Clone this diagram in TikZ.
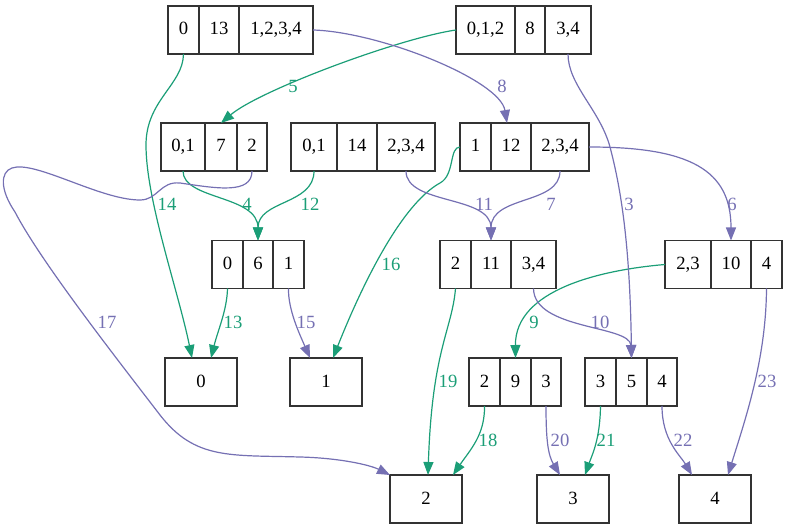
\documentclass[tikz,border=0pt]{standalone}
\usepackage{fontspec}
\setmainfont{Liberation Serif}
\usetikzlibrary{positioning,arrows.meta}
\definecolor{verde}{HTML}{1B9E77}
\definecolor{viola}{HTML}{7570B3}
\tikzset{
  cella/.style={draw=black!80, line width=1.33pt, minimum height=48pt, inner sep=0pt, outer sep=0pt, text height=10pt, text depth=0pt},
  foglia/.style={cella, minimum width=72pt},
  arco/.style={line width=1.2pt, -{Triangle[length=13pt,width=10pt]}},
  archiv/.style={arco, verde},
  archip/.style={arco, viola},
  etich/.style={inner sep=0pt, text height=10pt, text depth=0pt},
}
\begin{document}
\begin{tikzpicture}[x=1pt, y=-1pt, font=\fontsize{18.67}{22}\selectfont]
    \useasboundingbox (0,0) rectangle (787,529);
    % Livello 1
    \node[cella, minimum width=31pt, anchor=west] (n13a) at (168,30) {0};
    \node[cella, minimum width=40pt, right=0pt of n13a] (n13b) {13};
    \node[cella, minimum width=74pt, right=0pt of n13b] (n13c) {1,2,3,4};
    \node[cella, minimum width=59pt, anchor=west] (n8a) at (456,30) {0,1,2};
    \node[cella, minimum width=30pt, right=0pt of n8a] (n8b) {8};
    \node[cella, minimum width=46pt, right=0pt of n8b] (n8c) {3,4};
    % Livello 2
    \node[cella, minimum width=44pt, anchor=west] (n7a) at (161,147) {0,1};
    \node[cella, minimum width=32pt, right=0pt of n7a] (n7b) {7};
    \node[cella, minimum width=30pt, right=0pt of n7b] (n7c) {2};
    \node[cella, minimum width=46pt, anchor=west] (n14a) at (291,147) {0,1};
    \node[cella, minimum width=40pt, right=0pt of n14a] (n14b) {14};
    \node[cella, minimum width=58pt, right=0pt of n14b] (n14c) {2,3,4};
    \node[cella, minimum width=31pt, anchor=west] (n12a) at (460,147) {1};
    \node[cella, minimum width=40pt, right=0pt of n12a] (n12b) {12};
    \node[cella, minimum width=58pt, right=0pt of n12b] (n12c) {2,3,4};
    % Livello 3
    \node[cella, minimum width=31pt, anchor=west] (n6a) at (212,264.5) {0};
    \node[cella, minimum width=30pt, right=0pt of n6a] (n6b) {6};
    \node[cella, minimum width=31pt, right=0pt of n6b] (n6c) {1};
    \node[cella, minimum width=31pt, anchor=west] (n11a) at (440,264.5) {2};
    \node[cella, minimum width=40pt, right=0pt of n11a] (n11b) {11};
    \node[cella, minimum width=45pt, right=0pt of n11b] (n11c) {3,4};
    \node[cella, minimum width=46pt, anchor=west] (n10a) at (665,264.5) {2,3};
    \node[cella, minimum width=40pt, right=0pt of n10a] (n10b) {10};
    \node[cella, minimum width=31pt, right=0pt of n10b] (n10c) {4};
    % Livello 4
    \node[foglia] (l0) at (201,382) {0};
    \node[foglia] (l1) at (326,382) {1};
    \node[cella, minimum width=31pt, anchor=west] (n9a) at (469,382) {2};
    \node[cella, minimum width=31pt, right=0pt of n9a] (n9b) {9};
    \node[cella, minimum width=30pt, right=0pt of n9b] (n9c) {3};
    \node[cella, minimum width=31pt, anchor=west] (n5a) at (585,382) {3};
    \node[cella, minimum width=31pt, right=0pt of n5a] (n5b) {5};
    \node[cella, minimum width=30pt, right=0pt of n5b] (n5c) {4};
    % Foglie
    \node[foglia] (l2) at (426,499) {2};
    \node[foglia] (l3) at (573,499) {3};
    \node[foglia] (l4) at (715,499) {4};
    % Archi verdi
    \draw[archiv] (n13a.south) .. controls (183,85) and (146,100) .. (146,145) .. controls (146,200) and (178,290) .. ([xshift=-9pt]l0.north);
    \draw[archiv] (n8a.west) .. controls (400,38) and (260,90) .. (n7b.north);
    \draw[archiv] (n7a.south) .. controls (183,200) and (258,195) .. (n6b.north);
    \draw[archiv] (n14a.south) .. controls (314,205) and (258,200) .. (n6b.north);
    \draw[archiv] (n12a.west) .. controls (449,147) and (455,175) .. (440,183) .. controls (400,205) and (360,290) .. ([xshift=7pt]l1.north);
    \draw[archiv] (n6a.south) .. controls (227,310) and (218,330) .. ([xshift=10pt]l0.north);
    \draw[archiv] (n10a.west) .. controls (600,270) and (515,290) .. (n9b.north);
    \draw[archiv] (n11a.south) .. controls (452,330) and (432,350) .. ([xshift=2pt]l2.north);
    \draw[archiv] (n9a.south) .. controls (485,435) and (470,450) .. ([xshift=27pt]l2.north);
    \draw[archiv] (n5a.south) .. controls (600,440) and (592,455) .. ([xshift=12pt]l3.north);
    % Archi viola
    \draw[archip] (n13c.east) .. controls (380,32) and (500,80) .. ([xshift=-4pt]n12b.north);
    \draw[archip] (n8c.south) .. controls (568,85) and (600,110) .. (610,147) .. controls (620,185) and (630,240) .. (n5b.north);
    \draw[archip] (n7c.south) .. controls (252,195) and (215,188) .. (180,183) .. controls (160,181) and (158,200) .. (140,200)
        .. controls (100,200) and (35,160) .. (12,168) .. controls (0,172) and (0,190) .. (15,212)
        .. controls (40,260) and (110,350) .. (160,415) .. controls (195,460) and (230,455) .. (300,457)
        .. controls (340,458) and (370,465) .. (l2.north west);
    \draw[archip] (n14c.south) .. controls (406,205) and (491,195) .. (n11b.north);
    \draw[archip] (n12c.south) .. controls (560,205) and (491,195) .. (n11b.north);
    \draw[archip] (n12c.east) .. controls (690,147) and (731,170) .. (n10b.north);
    \draw[archip] (n6c.south) .. controls (288,310) and (300,335) .. ([xshift=-16pt]l1.north);
    \draw[archip] (n11c.south) .. controls (534,330) and (630,325) .. (n5b.north);
    \draw[archip] (n10c.south) .. controls (766,360) and (745,420) .. ([xshift=13pt]l4.north);
    \draw[archip] (n9c.south) .. controls (546,440) and (548,455) .. ([xshift=-13pt]l3.north);
    \draw[archip] (n5c.south) .. controls (662,440) and (680,455) .. ([xshift=-23pt]l4.north);
    % Etichette
    \node[etich, verde] (t5) at (293,88) {5};
    \node[etich, viola] (t8) at (502,88) {8};
    \node[etich, verde] (t14) at (167,206) {14};
    \node[etich, verde] (t4) at (247,206) {4};
    \node[etich, verde] (t12) at (310,206) {12};
    \node[etich, viola] (t11) at (484,206) {11};
    \node[etich, viola] (t7) at (551,206) {7};
    \node[etich, viola] (t3) at (629,206) {3};
    \node[etich, viola] (t6) at (732,206) {6};
    \node[etich, verde] (t16) at (391,266) {16};
    \node[etich, viola] (t17) at (107,323) {17};
    \node[etich, verde] (t13) at (233,323) {13};
    \node[etich, viola] (t15) at (306,323) {15};
    \node[etich, verde] (t9) at (534,323) {9};
    \node[etich, viola] (t10) at (600,323) {10};
    \node[etich, verde] (t19) at (448,382) {19};
    \node[etich, viola] (t23) at (767,382) {23};
    \node[etich, verde] (t18) at (488,441) {18};
    \node[etich, viola] (t20) at (560,441) {20};
    \node[etich, verde] (t21) at (606,441) {21};
    \node[etich, viola] (t22) at (683,441) {22};
\end{tikzpicture}
\end{document}
